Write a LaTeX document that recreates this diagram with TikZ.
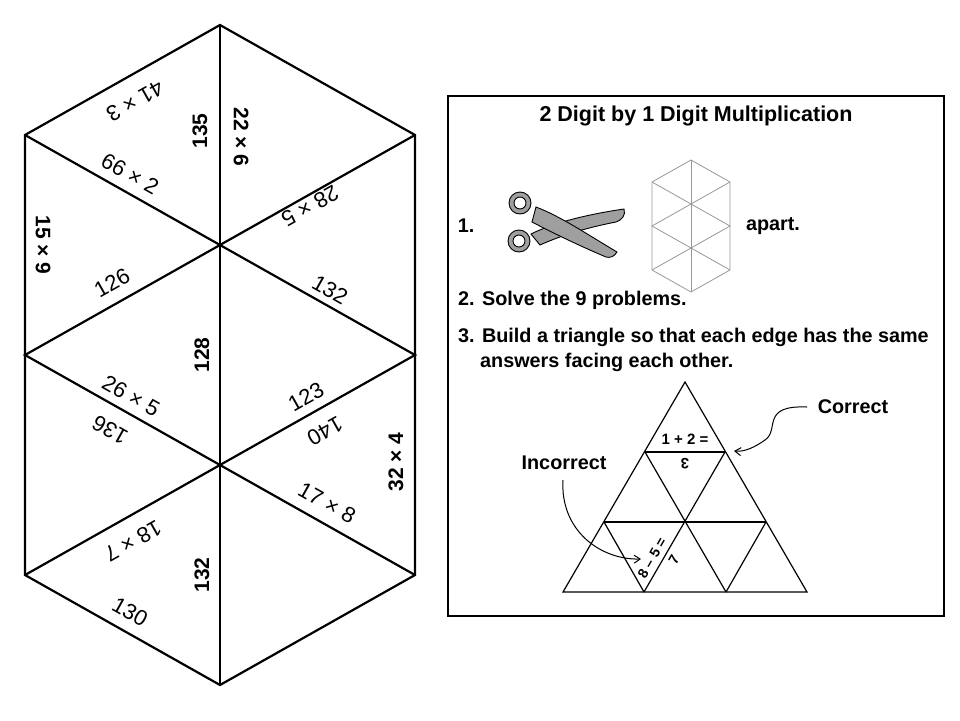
\documentclass[tikz,border=0pt]{standalone}
\usepackage{fontspec}
\setmainfont{Liberation Sans}
\usetikzlibrary{arrows.meta}
\begin{document}
\begin{tikzpicture}[x=1pt,y=-1pt,
  edge/.style={line width=2.2pt,line join=miter},
  dlab/.style={font=\fontsize{22}{22}\selectfont,inner sep=0},
  vlab/.style={font=\fontsize{21}{21}\selectfont\bfseries,inner sep=0},
  txt/.style={font=\fontsize{21.5}{21.5}\selectfont\bfseries,inner sep=0},
  stp/.style={font=\fontsize{19.8}{19.8}\selectfont\bfseries,inner sep=0},
  small/.style={font=\fontsize{15}{15}\selectfont\bfseries,inner sep=0},
  thin/.style={line width=1.2pt},
  grayl/.style={draw=gray!80,line width=0.8pt}]
\useasboundingbox (0,0) rectangle (960,720);
\fill[white] (0,0) rectangle (960,720);
% big tessellation
\coordinate (T) at (220,25); \coordinate (B) at (220,685);
\coordinate (L1) at (25,135); \coordinate (L2) at (25,355); \coordinate (L3) at (25,575);
\coordinate (R1) at (415,135); \coordinate (R2) at (415,355); \coordinate (R3) at (415,575);
\coordinate (C1) at (220,245); \coordinate (C2) at (220,465);
\draw[edge] (T)--(R1)--(R3)--(B)--(L3)--(L1)--cycle;
\draw[edge] (T)--(B);
\draw[edge] (L1)--(C1)--(L2)--(C2)--(L3);
\draw[edge] (R1)--(C1)--(R2)--(C2)--(R3);
\node[dlab,rotate=209.4] (a1) at (135,101) {41 × 3};
\node[vlab,rotate=90] (a2) at (200,131) {135};
\node[vlab,rotate=-90] (a3) at (241,137) {22 × 6};
\node[dlab,rotate=-29.4] (a4) at (130,174) {66 × 2};
\node[vlab,rotate=-90] (a5) at (43,245) {15 × 9};
\node[dlab,rotate=209.4] (a6) at (310,206) {28 × 5};
\node[dlab,rotate=29.4] (a7) at (112,283) {126};
\node[dlab,rotate=-29.4] (a8) at (330,290) {132};
\node[vlab,rotate=90] (a9) at (202,355) {128};
\node[dlab,rotate=-29.4] (a10) at (131,396) {26 × 5};
\node[dlab,rotate=150.6] (a11) at (110,430) {136};
\node[dlab,rotate=29.4] (a12) at (306,397) {123};
\node[dlab,rotate=209.4] (a13) at (325,431) {140};
\node[vlab,rotate=90] (a14) at (396,462) {32 × 4};
\node[dlab,rotate=-29.4] (a15) at (327,503) {17 × 8};
\node[dlab,rotate=209.4] (a16) at (133,541) {18 × 7};
\node[vlab,rotate=90] (a17) at (202,575) {132};
\node[dlab,rotate=-29.4] (a18) at (130,612) {130};
% box
\draw[line width=1.8pt] (448,96) rectangle (944,616);
\node[txt] (title) at (696,116) {2 Digit by 1 Digit Multiplication};
\node[stp] (s1) at (466,226) {1.};
\node[stp] (ap) at (773,226) {apart.};
\node[stp,anchor=west] (s2) at (458,300) {2. Solve the 9 problems.};
\node[stp,anchor=west] (s3) at (458,337) {3. Build a triangle so that each edge has the same};
\node[stp,anchor=west] (s3b) at (480,362) {answers facing each other.};
% scissors
\begin{scope}[fill=gray!75,draw=black,line width=0.9pt]
\filldraw (531,234) .. controls (555,222) and (590,214) .. (624,209) .. controls (626,215) and (622,220) .. (616,222) .. controls (585,228) and (560,236) .. (540,245) -- cycle;
\filldraw (536,207) .. controls (560,216) and (590,236) .. (617,252) .. controls (614,257) and (610,258) .. (606,257) .. controls (580,246) and (555,234) .. (532,222) -- cycle;
\filldraw[even odd rule] (520,203) circle (11) (520,203) circle (6);
\filldraw[even odd rule] (519,241) circle (11) (519,241) circle (6);
\end{scope}
% mini tessellation
\begin{scope}[shift={(691,160)},x=0.2pt,y=-0.2pt]
\draw[grayl] (0,0)--(195,110)--(195,550)--(0,660)--(-195,550)--(-195,110)--cycle;
\draw[grayl] (0,0)--(0,660);
\draw[grayl] (-195,110)--(0,220)--(-195,330)--(0,440)--(-195,550);
\draw[grayl] (195,110)--(0,220)--(195,330)--(0,440)--(195,550);
\end{scope}
% pyramid
\coordinate (P0) at (685,382);
\coordinate (PL1) at (645,452); \coordinate (PR1) at (725,452);
\coordinate (PL2) at (604,522); \coordinate (PM2) at (685,522); \coordinate (PR2) at (766,522);
\coordinate (PB0) at (563,592); \coordinate (PB1) at (644,592); \coordinate (PB2) at (726,592); \coordinate (PB3) at (807,592);
\draw[thin] (P0)--(PB0)--(PB3)--cycle;
\draw[thin] (PL1)--(PR1) (PL2)--(PR2);
\draw[thin] (PB1)--(PR1) (PB2)--(PR2);
\draw[thin] (PB1)--(PL2) (PB2)--(PL1);
\node[small] (q1) at (685,439) {1 + 2 =};
\node[small,rotate=180] (q2) at (685,464) {3};
\node[small,font=\fontsize{14}{14}\selectfont\bfseries,rotate=60] (q3) at (652,558) {8 – 5 =};
\node[small,font=\fontsize{14}{14}\selectfont\bfseries,rotate=60] (q4) at (674,560) {7};
\node[stp] (cor) at (853,407) {Correct};
\node[stp] (inc) at (564,463) {Incorrect};
\coordinate (ct) at (734,451);
\coordinate (it) at (641,559);
\draw[line width=1pt,-{Straight Barb[length=6pt,width=8pt]}] (807,407) .. controls (760,405) and (780,430) .. (765,440) .. controls (755,447) and (745,452) .. (ct);
\draw[line width=1pt,-{Straight Barb[length=6pt,width=8pt]}] (563,480) .. controls (560,530) and (600,560) .. (it);
\end{tikzpicture}
\end{document}
